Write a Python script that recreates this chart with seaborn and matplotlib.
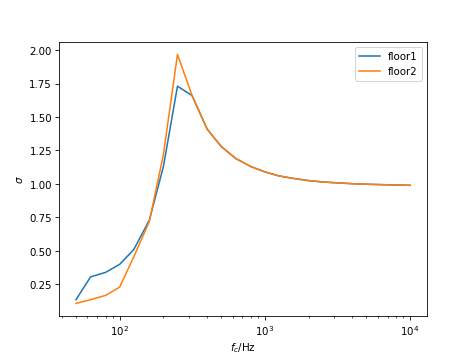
import numpy as np
import pandas as pd
import matplotlib
matplotlib.use("Agg")
import matplotlib.pyplot as plt
import seaborn as sns

# third-octave band centre frequencies
freqs = [50, 63, 80, 100, 125, 160, 200, 250, 315, 400, 500, 630, 800,
         1000, 1250, 1600, 2000, 2500, 3150, 4000, 5000, 6300, 8000, 10000]

floor1 = [0.136, 0.306, 0.34, 0.40, 0.51, 0.73, 1.13, 1.73, 1.66, 1.41,
          1.28, 1.19, 1.13, 1.09, 1.06, 1.04, 1.025, 1.015, 1.008, 1.002,
          0.998, 0.995, 0.992, 0.99]
floor2 = [0.108, 0.136, 0.168, 0.23, 0.456, 0.72, 1.22, 1.967, 1.66, 1.41,
          1.28, 1.19, 1.13, 1.09, 1.06, 1.04, 1.025, 1.015, 1.008, 1.002,
          0.998, 0.995, 0.992, 0.99]

df = pd.DataFrame({
    "f": freqs * 2,
    "sigma": floor1 + floor2,
    "floor": ["floor1"] * len(freqs) + ["floor2"] * len(freqs),
})

fig, ax = plt.subplots(figsize=(6.4, 4.8), dpi=74.1)
sns.lineplot(data=df, x="f", y="sigma", hue="floor",
             palette=["#1f77b4", "#ff7f0e"], ax=ax, linewidth=1.5)
ax.set_xscale("log")
ax.set_xlabel("$f_c$/Hz")
ax.set_ylabel(r"$\sigma$")
ax.legend(loc="upper right")

fig.savefig("out.png", dpi=74.1)
